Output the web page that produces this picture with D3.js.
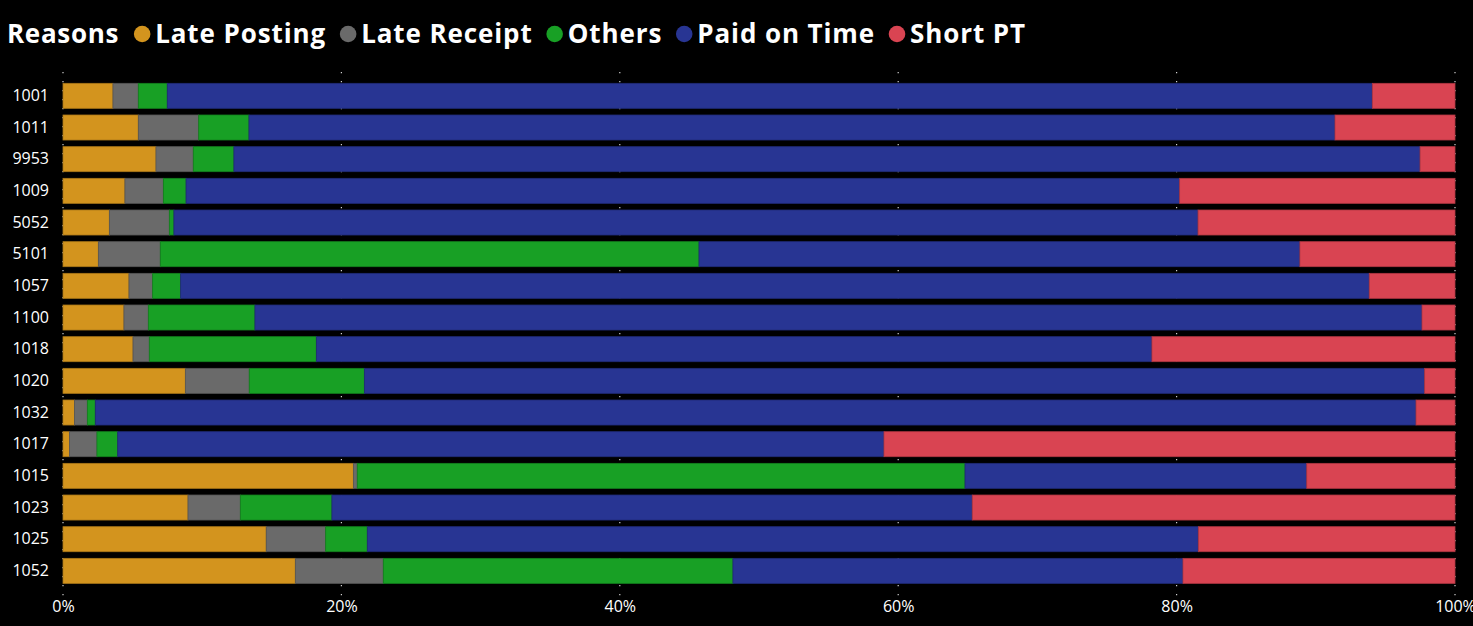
<!DOCTYPE html>
<html>
<head>
<meta charset="utf-8">
<script src="https://cdn.jsdelivr.net/npm/d3@7"></script>
<style>
    html, body { margin: 0; padding: 0; background: #000; }
    svg { display: block; }
    text { font-family: "Open Sans", "Noto Sans", sans-serif; fill: #fff; }
</style>
</head>
<body>
<div id="vis"></div>
<script>
// data (percent of each row)
let categories = ['1001', '1011', '9953', '1009', '5052', '5101', '1057', '1100',
    '1018', '1020', '1032', '1017', '1015', '1023', '1025', '1052'];

let seriesNames = ['Late Posting', 'Late Receipt', 'Others', 'Paid on Time', 'Short PT'];

let latePosting = [3.59, 5.41, 6.68, 4.45, 3.33, 2.54, 4.74, 4.38, 5.03, 8.79, 0.82, 0.46, 20.86, 8.98, 14.60, 16.69];
let lateReceipt = [1.82, 4.34, 2.68, 2.76, 4.31, 4.45, 1.70, 1.75, 1.17, 4.59, 0.93, 1.98, 0.28, 3.76, 4.27, 6.32];
let others      = [2.08, 3.61, 2.92, 1.63, 0.33, 38.70, 2.01, 7.66, 12.00, 8.27, 0.57, 1.49, 43.66, 6.58, 2.99, 25.12];
let paidOnTime  = [86.57, 78.02, 85.21, 71.38, 73.57, 43.17, 85.39, 83.84, 60.03, 76.17, 94.88, 55.05, 24.55, 46.00, 59.70, 32.33];
let shortPT     = [5.94, 8.62, 2.51, 19.78, 18.46, 11.14, 6.16, 2.37, 21.77, 2.18, 2.80, 41.02, 10.65, 34.68, 18.44, 19.54];

let tickValues = [0, 0.2, 0.4, 0.6, 0.8, 1];

let colors = ['#d3941e', '#6a6a6a', '#18a025', '#283593', '#d94452'];

let rows = categories.map((c, i) => ({
    id: c,
    'Late Posting': latePosting[i],
    'Late Receipt': lateReceipt[i],
    'Others': others[i],
    'Paid on Time': paidOnTime[i],
    'Short PT': shortPT[i]
}));

let width = 1473,
    height = 626;

let margin = {top: 80, right: 18, bottom: 39, left: 63};

let svg = d3.select('#vis')
    .append('svg')
    .attr('width', width)
    .attr('height', height);

// Scaling
let xScale = d3.scaleLinear()
    .domain([0, 1])
    .range([margin.left, width - margin.right]);

let yScale = d3.scaleBand()
    .domain(categories)
    .range([margin.top, height - margin.bottom - 0.3])
    .paddingInner(0.21)
    .paddingOuter(0.105);

let colorScale = d3.scaleOrdinal()
    .domain(seriesNames)
    .range(colors);

let stack = d3.stack()
    .keys(seriesNames)
    .offset(d3.stackOffsetExpand);

let stacked = stack(rows);

// Guides (dotted grid)
svg.append('g')
    .attr('class', 'grid')
    .selectAll('line')
    .data(tickValues)
    .enter()
    .append('line')
    .attr('x1', d => xScale(d))
    .attr('x2', d => xScale(d))
    .attr('y1', 72)
    .attr('y2', 597)
    .attr('stroke', '#d0d0d0')
    .attr('stroke-width', 1.2)
    .attr('stroke-dasharray', '1.2,7.8');

// Bars
let layer = svg.selectAll('g.layer')
    .data(stacked)
    .enter()
    .append('g')
    .attr('class', 'layer')
    .attr('fill', d => colorScale(d.key))
    .attr('stroke', d => d3.color(colorScale(d.key)).darker(0.6))
    .attr('stroke-width', 0.8);

layer.selectAll('rect')
    .data(d => d)
    .enter()
    .append('rect')
    .attr('x', d => xScale(d[0]))
    .attr('y', d => yScale(d.data.id))
    .attr('width', d => Math.max(0, xScale(d[1]) - xScale(d[0])))
    .attr('height', yScale.bandwidth());

// Axes
let xAxis = d3.axisBottom(xScale)
    .tickValues(tickValues)
    .tickFormat(d3.format('.0%'))
    .tickSize(0)
    .tickPadding(0);

svg.append('g')
    .attr('class', 'x-axis')
    .attr('transform', 'translate(0,' + 601 + ')')
    .call(xAxis)
    .call(g => g.select('.domain').remove())
    .selectAll('text')
    .attr('fill', '#fff')
    .style('font-size', '16px');

let yAxis = d3.axisLeft(yScale)
    .tickSize(0)
    .tickPadding(0);

svg.append('g')
    .attr('class', 'y-axis')
    .attr('transform', 'translate(' + 49 + ',0)')
    .call(yAxis)
    .call(g => g.select('.domain').remove())
    .selectAll('text')
    .attr('fill', '#fff')
    .style('font-size', '16px');

// Legend
let legend = svg.append('g')
    .attr('class', 'legend')
    .attr('transform', 'translate(7,43)');

let title = legend.append('text')
    .attr('x', 0)
    .attr('y', 0)
    .style('font-size', '26px')
    .style('font-weight', 'bold')
    .style('letter-spacing', '0.7px')
    .text('Reasons');

let cursor = title.node().getComputedTextLength() + 15;

seriesNames.forEach(function(name) {
    legend.append('circle')
        .attr('cx', cursor + 8)
        .attr('cy', -9)
        .attr('r', 8.3)
        .attr('fill', colorScale(name));

    let t = legend.append('text')
        .attr('x', cursor + 21)
        .attr('y', 0)
        .style('font-size', '26px')
        .style('font-weight', 'bold')
        .style('letter-spacing', '0.9px')
        .text(name);

    cursor += 21 + t.node().getComputedTextLength() + 14;
});
</script>
</body>
</html>
